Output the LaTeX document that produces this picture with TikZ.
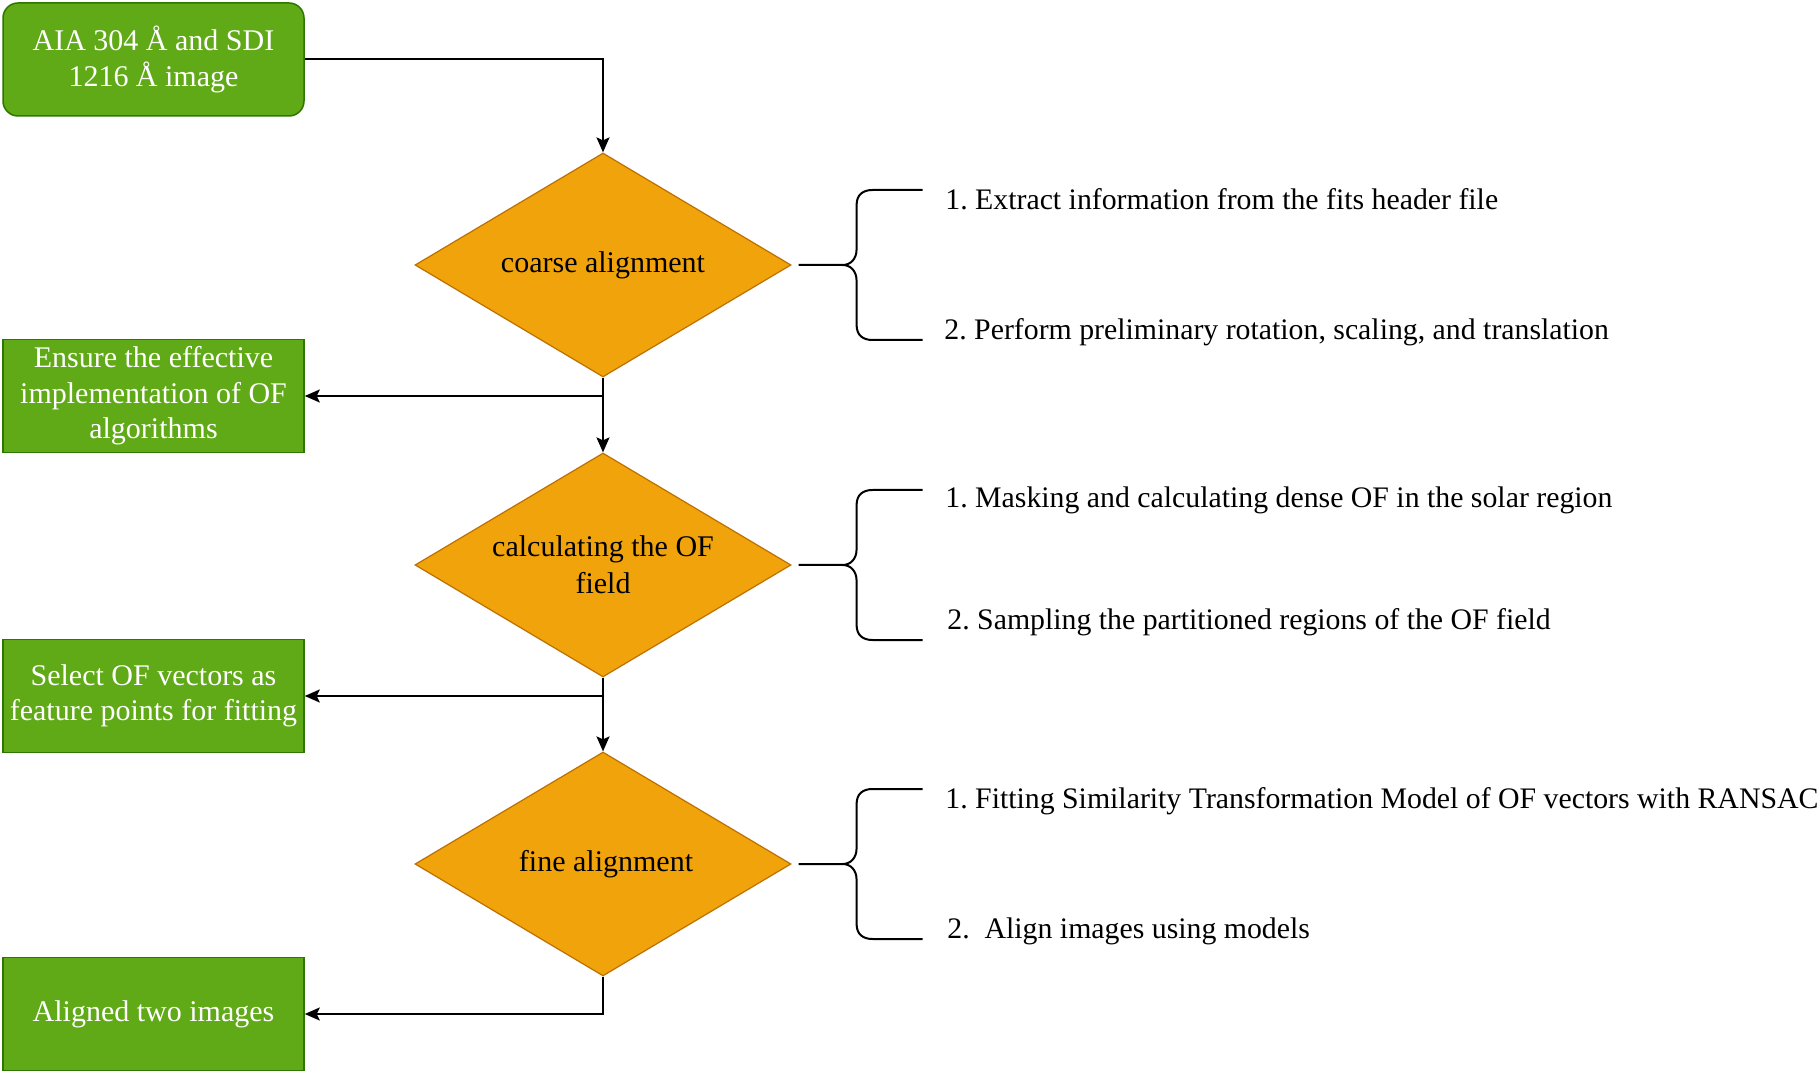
\documentclass[tikz,border=0pt]{standalone}
\usepackage{fontspec}
\setmainfont{Liberation Serif}
\usetikzlibrary{shapes.geometric,arrows.meta}
\definecolor{gfill}{HTML}{60A917}
\definecolor{gdraw}{HTML}{2D7600}
\definecolor{ofill}{HTML}{F0A30A}
\definecolor{odraw}{HTML}{BD7000}
\frenchspacing
\begin{document}
\begin{tikzpicture}[x=0.5pt,y=-0.5pt,
  gbox/.style={draw=gdraw,fill=gfill,line width=0.75pt,text=white,minimum width=150.5pt,minimum height=56.5pt,inner sep=0pt,align=center,font=\fontsize{15}{17.75}\selectfont},
  dmd/.style={diamond,draw=odraw,fill=ofill,line width=0.6pt,minimum width=188pt,minimum height=112pt,inner sep=0pt},
  dtext/.style={align=center,inner sep=0pt,font=\fontsize{15}{18.5}\selectfont},
  arr/.style={-{Stealth[length=7.5pt,width=6.5pt,inset=1.5pt]},line width=1pt},
  bracestyle/.style={line width=1pt},
  item/.style={anchor=base west,inner sep=0pt,font=\fontsize{14.9}{18}\selectfont},
  pics/curly/.style={code={
    \draw[bracestyle] (0,0) -- (44,0) .. controls (52,0) and (58,-6) .. (58,-16) -- (58,-60) .. controls (58,-70) and (64,-75) .. (74,-75) -- (124,-75);
    \draw[bracestyle] (44,0) .. controls (52,0) and (58,6) .. (58,16) -- (58,60) .. controls (58,70) and (64,75) .. (74,75) -- (124,75);
  }}]
\useasboundingbox (0,0) rectangle (1820,1074);

\node[gbox,rounded corners=7.5pt] (b1) at (153.5,59.5) {AIA 304 Å and SDI\\1216 Å image};
\node[gbox] (b2) at (153.5,396) {Ensure the effective\\implementation of OF\\algorithms};
\node[gbox] (b3) at (153.5,696) {Select OF vectors as\\feature points for fitting};
\node[gbox] (b4) at (153.5,1014) {Aligned two images};

\node[dmd] (d1) at (603,265) {};
\node[dtext] (l1) at (d1.center) {coarse alignment};
\node[dmd] (d2) at (603,565) {};
\node[dtext] (l2) at (d2.center) {calculating the OF\\field};
\node[dmd] (d3) at (603,864) {};
\node[dtext] (l3) at ([xshift=1.5pt]d3.center) {fine alignment};

\draw[arr] (b1.east) -| (d1.north);
\draw[arr] (d1.south) -- (d2.north);
\draw[arr] (d1.south) |- (b2.east);
\draw[arr] (d2.south) -- (d3.north);
\draw[arr] (d2.south) |- (b3.east);
\draw[arr] (d3.south) |- (b4.east);

\path ([xshift=3.5pt]d1.east) pic {curly};
\path ([xshift=3.5pt]d2.east) pic {curly};
\path ([xshift=3.5pt]d3.east) pic {curly};

\node[item] (t1a) at (945,210) {1. Extract information from the fits header file};
\node[item] (t1b) at (944,340) {2. Perform preliminary rotation, scaling, and translation};
\node[item] (t2a) at (945,508) {1. Masking and calculating dense OF in the solar region};
\node[item] (t2b) at (947,630) {2. Sampling the partitioned regions of the OF field};
\node[item] (t3a) at (945,808) {1. Fitting Similarity Transformation Model of OF vectors with RANSAC};
\node[item] (t3b) at (947,938) {2.\ \ Align images using models};
\end{tikzpicture}
\end{document}
